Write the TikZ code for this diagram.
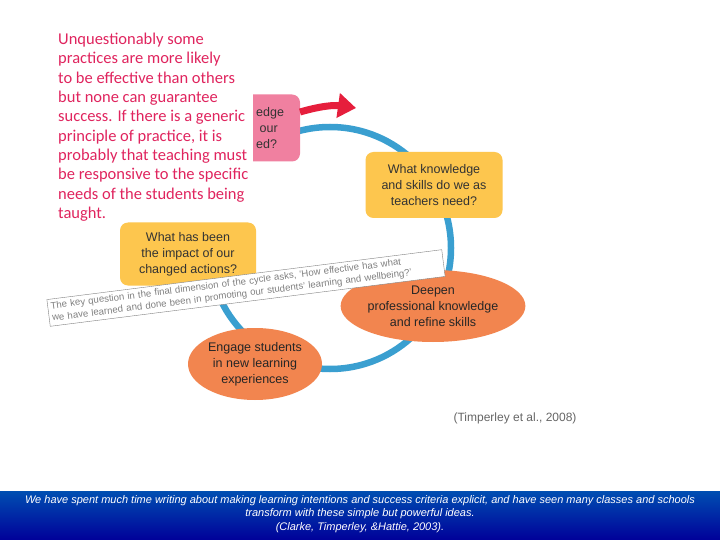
\documentclass[tikz,border=0pt]{standalone}
\usepackage{fontspec}
\setmainfont{Liberation Sans}
\newfontfamily\carlitofont{Carlito}
\usetikzlibrary{shapes.geometric,arrows.meta}
\definecolor{pinkt}{HTML}{E0245E}
\definecolor{cyc}{HTML}{3A9FD0}
\definecolor{ybox}{HTML}{FDC64E}
\definecolor{obox}{HTML}{F2854F}
\definecolor{pbox}{HTML}{F080A0}
\definecolor{arr}{HTML}{E61E3C}
\tikzset{
 ytag/.style={fill=ybox,rounded corners=8pt,align=center,font=\fontsize{12.5}{16}\selectfont,text=black!80},
 otag/.style={ellipse,fill=obox,align=center,font=\fontsize{12.5}{16}\selectfont,text=black!85,inner sep=0pt}
}
\begin{document}
\begin{tikzpicture}[x=1pt,y=-1pt]
\useasboundingbox (0,0) rectangle (720,540);
\fill[white] (0,0) rectangle (720,540);
\draw[cyc,line width=6.5pt] (330,248) circle[radius=121];
\node[fill=pbox,rounded corners=8pt,minimum width=100pt,minimum height=67pt] (p) at (250,128) {};
\node[align=left,anchor=west,inner sep=0pt,font=\fontsize{12.5}{16}\selectfont,text=black!80] (pt) at (256,128) {edge\\\ our\\ed?};
\fill[white] (45,28) rectangle (253,226);
\node[anchor=north west,align=left,inner sep=0pt,font=\carlitofont\fontsize{16.5}{19.3}\selectfont,text=pinkt] (t) at (58,33)
{Unquestionably some\\practices are more likely\\to be effective than others\\but none can guarantee\\success. If there is a generic\\principle of practice, it is\\probably that teaching must\\be responsive to the specific\\needs of the students being\\taught.};
\coordinate (as) at (300,112);
\coordinate (ae) at (356,108);
\draw[arr,line width=7pt,-{Triangle[length=18pt,width=24pt]}] (as) to[bend left=12] (ae);
\node[ytag,minimum width=137pt,minimum height=66pt] (y1) at (434,185) {What knowledge\\and skills do we as\\teachers need?};
\node[ytag,minimum width=136pt,minimum height=63pt] (y2) at (188,254) {What has been\\the impact of our\\changed actions?};
\node[otag,minimum width=146pt,minimum height=72pt] (o1) at (433,306) {Deepen\\professional knowledge\\and refine skills};
\node[otag,minimum width=134pt,minimum height=72pt] (o2) at (255,364) {Engage students\\in new learning\\experiences};
\node[draw=black!50,fill=white,rotate=7.2,align=left,inner sep=3pt,font=\fontsize{9.6}{12}\selectfont,text=black!50,text width=392pt] (q) at (246,288)
{The key question in the final dimension of the cycle asks, `How effective has what\\we have learned and done been in promoting our students' learning and wellbeing?'};
\node[text=black!60,font=\fontsize{12}{14}\selectfont] (c) at (515,418) {(Timperley et al., 2008)};
\shade[top color=blue!55!cyan!70!black,bottom color=blue!60!black] (0,490) rectangle (720,540);
\draw[white] (0,490) -- (720,490);
\node[text=white,align=center,font=\itshape\fontsize{11}{13.5}\selectfont] (b) at (360,514)
{We have spent much time writing about making learning intentions and success criteria explicit, and have seen many classes and schools\\transform with these simple but powerful ideas.\\(Clarke, Timperley, \&Hattie, 2003).};
\end{tikzpicture}
\end{document}
